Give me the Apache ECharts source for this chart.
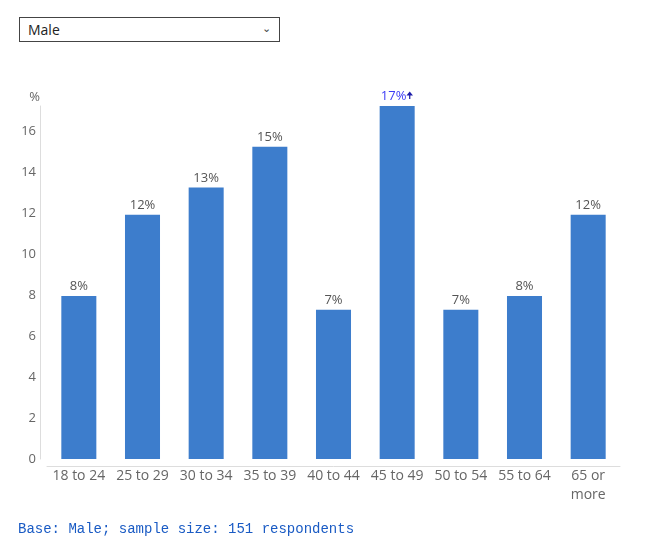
<!DOCTYPE html>
<html>
<head>
<meta charset="utf-8">
<script src="https://cdn.jsdelivr.net/npm/echarts@6/dist/echarts.min.js"></script>
<style>
  body { margin: 0; background: #fff; font-family: "Open Sans", sans-serif; }
  #chart { position: absolute; left: 0; top: 0; width: 658px; height: 553px; }
  #group {
    position: absolute; left: 19px; top: 17px; width: 261px; height: 25px;
    border: 1px solid #444; box-sizing: border-box; background: #fff;
    font-family: "Open Sans", sans-serif; font-size: 14px; color: #222;
    padding: 0 8px; z-index: 2;
  }
  #group span.caret { position: absolute; right: 8px; top: 2px; font-size: 11px; color: #444; }
  #group span.txt { line-height: 23px; }
  #base {
    position: absolute; left: 18px; top: 521px; z-index: 2;
    font-family: "Liberation Mono", monospace; font-size: 14px; color: #1a5bc4;
  }
</style>
</head>
<body>
<div id="group"><span class="txt">Male</span><span class="caret">&#8964;</span></div>
<div id="chart"></div>
<div id="base">Base: Male; sample size: 151 respondents</div>
<script>
// age bands and share of male respondents (%)
var ageBands = ['18 to 24', '25 to 29', '30 to 34', '35 to 39', '40 to 44', '45 to 49', '50 to 54', '55 to 64', '65 or\nmore'];
var percents = [7.95, 11.92, 13.25, 15.23, 7.28, 17.22, 7.28, 7.95, 11.92];
// bands flagged as significantly higher
var flagged = [false, false, false, false, false, true, false, false, false];

var chart = echarts.init(document.getElementById('chart'));

var barData = percents.map(function (v, i) {
    return {
        value: v,
        label: flagged[i] ? {
            formatter: '{hi|' + Math.round(v) + '%}{arr|🠉}',
            rich: {
                hi: { color: '#3b3bf5', fontSize: 13, fontFamily: 'Open Sans' },
                arr: { color: '#1a1aa8', fontSize: 9, fontFamily: 'DejaVu Sans', padding: [0, 0, 2, 0] }
            }
        } : {}
    };
});

chart.setOption({
    animation: false,
    grid: { left: 47, right: 38, top: 106, bottom: 94 },
    xAxis: {
        type: 'category',
        data: ageBands,
        offset: 7,
        axisLine: { onZero: false, lineStyle: { color: '#ddd', width: 1 } },
        axisTick: { show: false },
        axisLabel: {
            color: '#666', fontSize: 14, fontFamily: 'Open Sans',
            interval: 0, lineHeight: 19, margin: 1
        }
    },
    yAxis: {
        type: 'value',
        min: 0,
        max: function (value) { return value.max; },
        interval: 2,
        offset: 7,
        name: '%',
        nameGap: 2,
        nameTextStyle: { color: '#666', fontSize: 13, fontFamily: 'Open Sans', align: 'right' },
        axisLine: { show: true, lineStyle: { color: '#ddd', width: 1 } },
        axisTick: { show: false },
        splitLine: { show: false },
        axisLabel: { color: '#666', fontSize: 13, fontFamily: 'Open Sans', margin: 4, showMaxLabel: false }
    },
    series: [{
        type: 'bar',
        data: barData,
        barWidth: '55%',
        itemStyle: { color: '#3d7dcc' },
        label: {
            show: true,
            position: 'top',
            distance: 3,
            color: '#555',
            fontSize: 13,
            fontFamily: 'Open Sans',
            formatter: function (p) { return Math.round(p.value) + '%'; }
        }
    }]
});
</script>
</body>
</html>
